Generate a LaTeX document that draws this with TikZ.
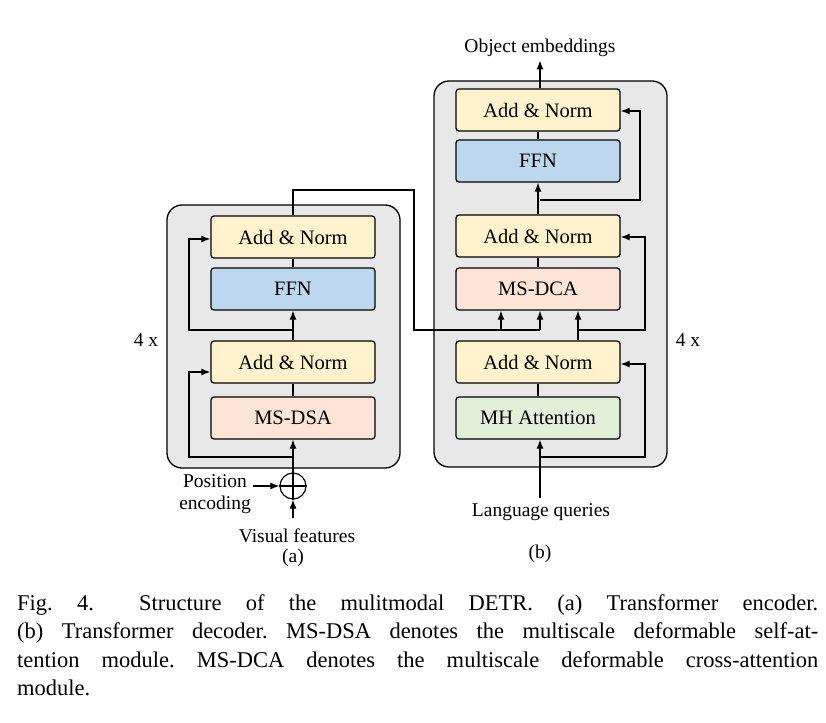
\documentclass[tikz,border=0pt]{standalone}
\usepackage{fontspec}
\setmainfont{Liberation Serif}
\usetikzlibrary{arrows.meta}
\definecolor{normcol}{HTML}{FFF2CC}
\definecolor{ffncol}{HTML}{BDD7EE}
\definecolor{attcol}{HTML}{FCE4D6}
\definecolor{mhcol}{HTML}{E2F0D9}
\definecolor{panelcol}{HTML}{E8E8E8}
\tikzset{
    block/.style={draw, line width=1.3pt, rounded corners=3pt, minimum width=164pt,
        minimum height=42pt, font=\fontsize{20.5}{23}\selectfont},
    panel/.style={draw, line width=1.3pt, rounded corners=15pt, fill=panelcol},
    flow/.style={line width=1.2pt},
    arr/.style={flow, -{Latex[length=9pt,width=7pt]}},
    lbl/.style={font=\fontsize{19.5}{22}\selectfont, align=center}
}
\begin{document}
\frenchspacing
\begin{tikzpicture}[x=1pt,y=-1pt]
    \useasboundingbox (0,0) rectangle (826,722);

    % panels
    \draw[panel] (167,205) rectangle (400,468);
    \draw[panel] (434,81) rectangle (667,467);

    % encoder
    \node[block, fill=normcol] (encnormtop) at (293,237) {Add \& Norm};
    \node[block, fill=ffncol] (encffn) at (293,289) {FFN};
    \node[block, fill=normcol] (encnormlow) at (293,362) {Add \& Norm};
    \node[block, fill=attcol] (encdsa) at (293,418) {MS-DSA};
    \node[circle, draw, line width=1.2pt, minimum size=26pt, inner sep=0pt] (plus) at (293,486) {};
    \draw[line width=1.2pt] (plus.north) -- (plus.south) (plus.west) -- (plus.east);
    \node[lbl] (posenc) at (215,494) {Position\\encoding};
    \node[lbl] (visual) at (297,536) {Visual features};
    \node[lbl, inner sep=1pt] (capa) at (293,558) {(a)};
    \node[lbl] (fourl) at (146,340) {4 x};
    \coordinate (encsplit) at (293,457);
    \coordinate (encmid) at (293,330);
    \coordinate (posend) at (253,486);
    \coordinate (visend) at (293,518);

    \draw[arr] (visend) -- (plus.south);
    \draw[arr] (posend) -- (plus.west);
    \draw[arr] (plus.north) -- (encdsa.south);
    \draw[flow] (encdsa) -- (encnormlow);
    \draw[arr] (encsplit) -| (189,372) -- (encnormlow.west |- 0,372);
    \draw[arr] (encnormlow) -- (encffn);
    \draw[flow] (encffn) -- (encnormtop);
    \draw[arr] (encmid) -| (189,239) -- (encnormtop.west |- 0,239);

    % decoder
    \node[block, fill=normcol] (decnormtop) at (538,110) {Add \& Norm};
    \node[block, fill=ffncol] (decffn) at (538,161) {FFN};
    \node[block, fill=normcol] (decnormmid) at (538,236) {Add \& Norm};
    \node[block, fill=attcol] (decdca) at (538,289) {MS-DCA};
    \node[block, fill=normcol] (decnormlow) at (538,362) {Add \& Norm};
    \node[block, fill=mhcol] (decmh) at (538,418) {MH Attention};
    \node[lbl] (objemb) at (540,48) {Object embeddings};
    \node[lbl] (langq) at (541,512) {Language queries};
    \node[lbl] (capb) at (540,554) {(b)};
    \node[lbl] (fourr) at (688,340) {4 x};
    \coordinate (decsplit) at (540,457);
    \coordinate (decmid) at (578,330);
    \coordinate (decff) at (540,200);
    \coordinate (langend) at (540,498);

    \draw[arr] (langend) -- (decmh.south -| langend);
    \draw[flow] (decmh) -- (decnormlow);
    \draw[arr] (decsplit) -| (645,364) -- (decnormlow.east |- 0,364);
    \draw[arr] (decnormlow.north -| decmid) -- (decdca.south -| decmid);
    \draw[arr] (decmid) -| (645,237) -- (decnormmid.east |- 0,237);
    \draw[flow] (decdca) -- (decnormmid);
    \draw[arr] (decnormmid) -- (decffn);
    \draw[flow] (decffn) -- (decnormtop);
    \draw[arr] (decff) -| (640,111) -- (decnormtop.east |- 0,111);
    \draw[arr] (decnormtop.north -| objemb) -- (objemb.south);

    % encoder memory into cross-attention
    \draw[flow] (encnormtop.north) -- (293,190) -| (414,330) -- (540,330);
    \draw[arr] (501,330) -- (decdca.south -| 501,0);
    \draw[arr] (540,330) -- (decdca.south -| 540,0);

    % caption
    \node[anchor=north west, text width=801pt, align=justify, inner sep=0pt,
        font=\fontsize{22.5}{28.5}\selectfont] (caption) at (17,594)
        {Fig. 4.\qquad Structure of the mulitmodal DETR. (a) Transformer encoder.\linebreak
        (b) Transformer decoder. MS-DSA denotes the multiscale deformable self-at-\linebreak
        tention module. MS-DCA denotes the multiscale deformable cross-attention\linebreak
        module.};
\end{tikzpicture}
\end{document}
